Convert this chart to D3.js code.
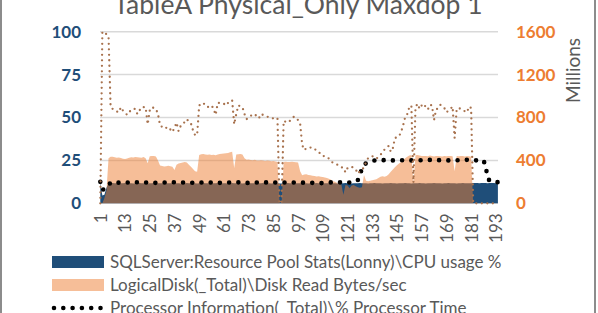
<!DOCTYPE html>
<html>
<head>
<meta charset="utf-8">
<script src="https://cdn.jsdelivr.net/npm/d3@7"></script>
<style>
  body { margin: 0; background: #fff; }
  svg { display: block; }
  text { font-family: Lato, "Liberation Sans", sans-serif; }
</style>
</head>
<body>
<svg width="598" height="313"></svg>
<script>
// values, one per sample (1..194)
const cpuUsage = [
  12.0, 4.5, 5.0, 9.0, 11.7, 11.7, 11.8, 11.7, 11.7, 11.6,
  11.7, 11.7, 11.8, 11.7, 11.7, 11.7, 11.6, 11.7, 11.7, 11.8,
  11.7, 11.7, 11.7, 11.6, 11.7, 11.7, 11.8, 11.7, 11.7, 11.7,
  11.7, 11.6, 11.7, 11.7, 11.7, 11.8, 11.7, 11.7, 11.7, 11.6,
  11.7, 11.7, 11.8, 11.7, 11.7, 11.7, 11.7, 11.6, 11.7, 11.7,
  11.8, 11.7, 11.7, 11.7, 11.6, 11.7, 11.7, 11.8, 11.7, 11.7,
  11.7, 11.7, 11.6, 11.7, 11.8, 11.7, 11.7, 11.7, 11.7, 11.6,
  11.7, 11.7, 11.8, 11.7, 11.7, 11.7, 11.6, 11.7, 11.7, 11.8,
  11.7, 11.7, 11.7, 11.6, 11.7, 11.7, 11.7, 11.5, 11.6, 11.7,
  11.7, 11.8, 11.7, 11.7, 11.6, 11.7, 11.7, 11.7, 11.8, 11.7,
  11.7, 11.6, 11.7, 11.7, 11.7, 11.8, 11.7, 11.7, 11.6, 11.7,
  11.7, 11.7, 11.8, 11.7, 11.7, 11.6, 11.7, 11.7, 11.7, 11.8,
  11.7, 11.7, 11.6, 11.7, 11.7, 11.7, 11.8, 11.7, 11.7, 11.7,
  11.6, 11.7, 11.7, 11.8, 11.7, 11.7, 11.7, 11.6, 11.7, 11.7,
  11.7, 11.8, 11.7, 11.7, 11.6, 11.7, 11.7, 11.7, 11.8, 11.7,
  11.7, 11.6, 11.7, 11.7, 11.7, 11.8, 11.7, 11.7, 11.6, 11.7,
  11.7, 11.7, 11.8, 11.7, 11.7, 11.7, 11.6, 11.7, 11.7, 11.8,
  11.7, 11.7, 11.7, 11.6, 11.7, 11.7, 11.8, 11.7, 11.7, 11.7,
  11.7, 11.8, 11.8, 11.8, 11.7, 11.8, 11.8, 11.8, 11.7, 11.8,
  11.8, 11.8, 11.7, 11.8
];

// millions of bytes/sec, right axis
const diskReadMillions = [
  0, 0, 50, 120, 420, 435, 435, 430, 425, 428,
  422, 415, 412, 418, 425, 430, 428, 432, 430, 428,
  425, 432, 420, 373, 438, 441, 440, 436, 400, 352,
  348, 342, 345, 350, 345, 340, 310, 360, 372, 375,
  380, 385, 380, 360, 340, 320, 300, 295, 450, 458,
  460, 455, 452, 455, 450, 452, 448, 455, 460, 462,
  465, 466, 470, 475, 480, 330, 455, 458, 460, 455,
  420, 405, 408, 404, 402, 405, 400, 398, 402, 400,
  395, 398, 396, 392, 395, 390, 385, 0, 0, 385,
  388, 386, 384, 388, 385, 382, 380, 300, 262, 268,
  270, 265, 262, 258, 255, 250, 252, 248, 245, 240,
  235, 230, 220, 205, 200, 190, 180, 175, 80, 170,
  165, 140, 165, 170, 160, 150, 145, 150, 265, 210,
  205, 210, 215, 220, 225, 235, 248, 252, 248, 255,
  270, 295, 315, 335, 355, 370, 385, 400, 420, 435,
  445, 450, 180, 448, 450, 445, 440, 442, 440, 438,
  445, 440, 436, 440, 442, 438, 436, 440, 438, 442,
  440, 438, 300, 440, 438, 442, 440, 436, 440, 438,
  435, 0, 0, 0, 0, 0, 0, 0, 0, 0,
  0, 0, 0, 0
];

const processorTime = [
  12.5, 7.8, 8.3, 8.8, 10.5, 12.2, 12.3, 12.1, 12.2, 12.0,
  12.2, 12.3, 12.1, 12.2, 12.0, 11.9, 12.2, 12.1, 12.3, 12.1,
  12.2, 12.0, 12.1, 12.2, 12.3, 12.1, 12.0, 11.9, 12.1, 12.2,
  12.2, 12.1, 12.0, 12.2, 12.1, 12.3, 12.2, 12.0, 11.8, 11.9,
  12.1, 12.2, 12.1, 12.0, 12.2, 11.9, 11.8, 12.0, 12.2, 12.1,
  12.0, 11.8, 11.9, 12.1, 12.2, 12.3, 12.1, 11.8, 11.9, 12.1,
  12.2, 12.3, 12.2, 12.0, 11.9, 12.1, 12.2, 12.2, 12.1, 12.3,
  12.2, 12.0, 11.8, 11.9, 12.1, 12.2, 12.1, 12.0, 12.2, 12.2,
  12.1, 12.3, 12.2, 12.0, 11.9, 12.1, 12.2, 12.3, 12.1, 12.2,
  12.0, 11.9, 12.1, 12.2, 12.1, 12.0, 11.9, 11.8, 12.0, 12.1,
  12.2, 12.1, 12.0, 11.9, 11.8, 11.9, 12.0, 11.8, 11.7, 11.9,
  12.0, 12.1, 12.2, 12.2, 12.3, 12.1, 12.2, 12.2, 12.1, 12.3,
  12.2, 12.1, 12.4, 12.5, 12.6, 13.5, 16.0, 20.5, 22.5, 23.3,
  23.8, 24.2, 24.6, 24.9, 25.1, 25.2, 25.0, 25.1, 25.2, 25.0,
  25.1, 25.2, 25.0, 24.9, 25.1, 25.2, 25.0, 25.1, 25.3, 25.2,
  25.1, 25.0, 25.2, 25.3, 25.2, 25.1, 25.0, 25.2, 25.3, 25.4,
  25.3, 25.2, 25.0, 24.9, 25.1, 25.2, 25.3, 25.2, 25.1, 25.0,
  25.2, 25.3, 25.2, 25.1, 25.0, 25.2, 25.3, 25.4, 25.3, 25.2,
  25.1, 25.2, 25.0, 25.1, 25.2, 25.1, 25.0, 22.0, 15.0, 13.0,
  12.6, 12.4, 12.5, 12.3
];

// fourth counter, its legend entry is below the visible crop
const fourthCounter = [
  0, 100, 99.5, 98.5, 97.5, 56, 55, 54, 53.5, 53,
  56, 54, 53, 51.5, 53, 54.5, 55, 55, 52, 54,
  56, 56, 56, 46, 54, 56, 55.5, 55, 52, 45.5,
  44.5, 43.5, 44, 44.5, 43, 41.5, 44, 47, 42, 45,
  46, 47.5, 49, 47.5, 46.5, 42.5, 39.7, 39.7, 57, 58,
  58.5, 57, 56, 56.5, 57, 55, 51.5, 58.5, 58.5, 58.5,
  58, 57, 58.5, 59, 60, 46, 52, 57, 56.5, 56,
  52, 49, 50, 51, 51.5, 52, 50.5, 49.5, 52, 51.5,
  51, 50.5, 50, 49.5, 49.5, 50, 49.5, 0, 0, 48,
  47.5, 47, 48, 49, 50.5, 49.5, 48.5, 46.5, 34, 31,
  32, 32.5, 32.5, 32.5, 31.5, 31, 30, 28.5, 27.5, 27.5,
  27, 26, 24.5, 23.5, 23, 22.5, 22, 21, 20.7, 18,
  20.5, 21, 21.3, 20.5, 19.8, 17.2, 18.6, 19.5, 21, 24,
  26.3, 27, 27.5, 26.5, 26, 27, 28.3, 29.5, 31.4, 32.5,
  33.4, 30, 32, 38, 38.5, 39, 41.5, 45.4, 50.2, 52,
  56, 57, 12, 56, 58, 55, 57, 58, 56, 54.6,
  57.4, 57, 48.5, 54.6, 55.5, 57.4, 56.5, 55.5, 53, 54,
  55, 56.4, 38, 55, 55.5, 55, 54.6, 53.5, 53, 56.4,
  55.5, 0, 0, 0, 0, 0, 0, 0, 0, 0,
  0, 0, 0, 0
];

const xTickLabels = [1, 13, 25, 37, 49, 61, 73, 85, 97, 109, 121, 133, 145, 157, 169, 181, 193];
const leftTicks = [0, 25, 50, 75, 100];
const rightTicks = [0, 400, 800, 1200, 1600];
const legendNames = [
  "SQLServer:Resource Pool Stats(Lonny)\\CPU usage %",
  "LogicalDisk(_Total)\\Disk Read Bytes/sec",
  "Processor Information(_Total)\\% Processor Time"
];
const chartTitle = "TableA Physical_Only Maxdop 1";

const categories = cpuUsage.map((d, i) => i + 1);

var svg = d3.select("svg");

var x = d3.scalePoint().domain(categories).range([100.3, 497.9]);
var yL = d3.scaleLinear().domain([0, 100]).range([203.3, 31.7]);
var yR = d3.scaleLinear().domain([0, 1600]).range([203.3, 31.7]);

// chart border (only the sides are inside the crop)
svg.append("line").attr("x1", 1).attr("x2", 1).attr("y1", 0).attr("y2", 313)
  .attr("stroke", "#8c8c8c").attr("stroke-width", 2);
svg.append("line").attr("x1", 595).attr("x2", 595).attr("y1", 0).attr("y2", 313)
  .attr("stroke", "#8c8c8c").attr("stroke-width", 2);

// title
svg.append("text")
  .attr("x", 298).attr("y", 13.5)
  .attr("text-anchor", "middle")
  .attr("fill", "#595959")
  .style("font-size", "26.5px")
  .text(chartTitle);

// gridlines
svg.append("g")
  .selectAll("line")
  .data(leftTicks)
  .enter()
  .append("line")
  .attr("x1", 100).attr("x2", 498)
  .attr("y1", (d) => yL(d)).attr("y2", (d) => yL(d))
  .attr("stroke", "#d9d9d9").attr("stroke-width", 1.5);

var areaL = d3.area()
  .x((d, i) => x(categories[i]))
  .y0(yL(0))
  .y1((d) => yL(d));

var areaR = d3.area()
  .x((d, i) => x(categories[i]))
  .y0(yR(0))
  .y1((d) => yR(d));

svg.append("path").attr("d", areaL(cpuUsage)).attr("fill", "#1f4e79");
svg.append("path").attr("d", areaR(diskReadMillions))
  .attr("fill", "#ed7d31").attr("fill-opacity", 0.5);

var lineL = d3.line()
  .x((d, i) => x(categories[i]))
  .y((d) => yL(d));

svg.append("path").attr("d", lineL(processorTime))
  .attr("fill", "none").attr("stroke", "#000")
  .attr("stroke-width", 4.6).attr("stroke-linecap", "round")
  .attr("stroke-dasharray", "0 9.3");

svg.append("path").attr("d", lineL(fourthCounter))
  .attr("fill", "none").attr("stroke", "#a8724e")
  .attr("stroke-width", 2.3).attr("stroke-linecap", "round")
  .attr("stroke-dasharray", "0 5.5");

// left axis
var gL = svg.append("g").attr("transform", "translate(81,0)")
  .call(d3.axisLeft(yL).tickValues(leftTicks).tickSize(0).tickPadding(0));
gL.select(".domain").remove();
gL.selectAll("text")
  .attr("fill", "#1f4e79")
  .style("font-size", "17px").style("font-weight", "bold")
  .style("font-family", "Lato, 'Liberation Sans', sans-serif");

// right axis
var gR = svg.append("g").attr("transform", "translate(516,0)")
  .call(d3.axisRight(yR).tickValues(rightTicks).tickFormat(d3.format("d")).tickSize(0).tickPadding(0));
gR.select(".domain").remove();
gR.selectAll("text")
  .attr("fill", "#ed7d31")
  .style("font-size", "17px").style("font-weight", "bold")
  .style("font-family", "Lato, 'Liberation Sans', sans-serif");

svg.append("text")
  .attr("transform", "translate(580,70.5) rotate(-90)")
  .attr("text-anchor", "middle")
  .attr("fill", "#595959")
  .style("font-size", "19px")
  .text("Millions");

// category axis, labels rotated
var gX = svg.append("g").attr("transform", "translate(0," + yL(0) + ")")
  .call(d3.axisBottom(x).tickValues(xTickLabels).tickSize(0));
gX.select(".domain").remove();
gX.selectAll("text")
  .attr("transform", "rotate(-90)")
  .attr("x", -10).attr("y", 0).attr("dy", "0.35em")
  .attr("fill", "#595959")
  .style("text-anchor", "end")
  .style("font-size", "17px")
  .style("font-family", "Lato, 'Liberation Sans', sans-serif");

// legend
var legendY = [262, 285, 308];
var lg = svg.append("g");
lg.append("rect").attr("x", 52).attr("y", legendY[0] - 6).attr("width", 52).attr("height", 12)
  .attr("fill", "#1f4e79");
lg.append("rect").attr("x", 52).attr("y", legendY[1] - 6).attr("width", 52).attr("height", 12)
  .attr("fill", "#ed7d31").attr("fill-opacity", 0.5);
lg.append("line").attr("x1", 54).attr("x2", 104).attr("y1", legendY[2]).attr("y2", legendY[2])
  .attr("stroke", "#000").attr("stroke-width", 4.6)
  .attr("stroke-linecap", "round").attr("stroke-dasharray", "0 9.3");
lg.selectAll("text")
  .data(legendNames)
  .enter()
  .append("text")
  .attr("x", 110)
  .attr("y", (d, i) => legendY[i])
  .attr("dy", "0.35em")
  .attr("fill", "#595959")
  .style("font-size", "17px")
  .text((d) => d);
</script>
</body>
</html>
